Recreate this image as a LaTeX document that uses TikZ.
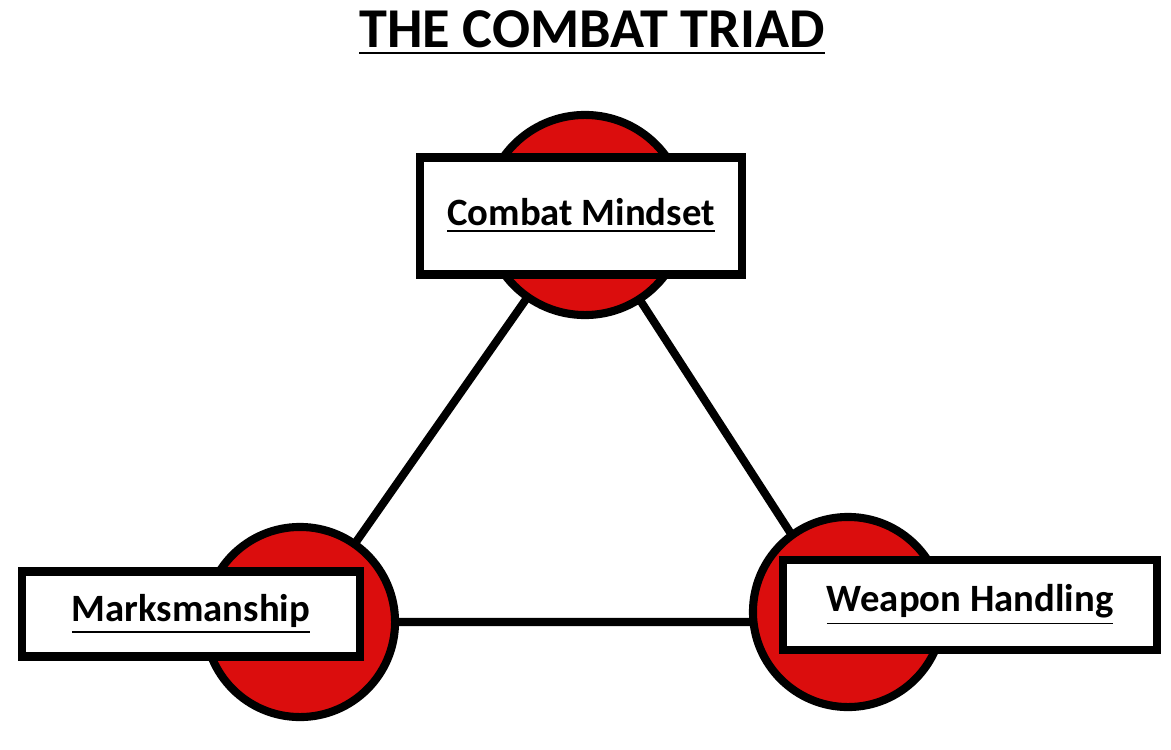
\documentclass[tikz,border=0pt]{standalone}
\usepackage{fontspec}
\setmainfont{Carlito}
\begin{document}
\begin{tikzpicture}[x=0.01cm,y=-0.01cm,
  blob/.style={circle,draw,line width=2.3pt,fill=red!85!black!95,minimum size=#1},
  tag/.style={draw,line width=2.3pt,fill=white,font=\bfseries\fontsize{11}{13}\selectfont},
  link/.style={line width=2.3pt}]
\useasboundingbox (0,0) rectangle (1171,749);
\node[font=\bfseries\fontsize{16}{19}\selectfont] (title) at (592,33) {\underline{THE COMBAT TRIAD}};
\coordinate (cm) at (585,215);
\coordinate (mk) at (300,622);
\coordinate (wh) at (848,622);
\draw[link] (cm) -- (mk) -- (wh) -- (cm);
\node[blob=2cm] (cmc) at (cm) {};
\node[blob=1.9cm] (mkc) at (mk) {};
\node[blob=1.9cm] (whc) at (848,612) {};
\node[tag,minimum width=3.22cm,minimum height=1.17cm] (cmt) at (581,216) {\underline{Combat Mindset}};
\node[tag,minimum width=3.38cm,minimum height=0.85cm] (mkt) at (191,614) {\underline{Marksmanship}};
\node[tag,minimum width=3.74cm,minimum height=0.9cm] (wht) at (970,605) {\underline{Weapon Handling}};
\end{tikzpicture}
\end{document}
